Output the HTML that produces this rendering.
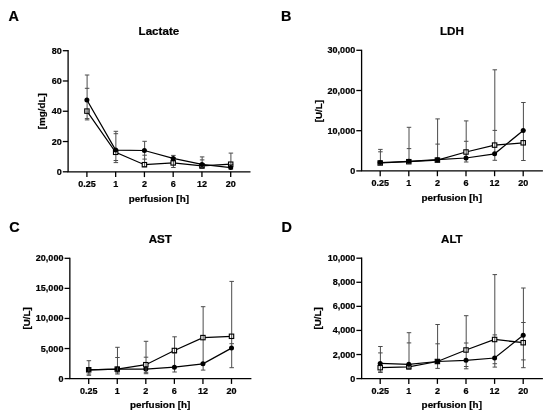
<!DOCTYPE html>
<html lang="en"><head><meta charset="utf-8"><title>Perfusion figure</title>
<style>
html,body{margin:0;padding:0;background:#fff;}
body{width:550px;height:418px;overflow:hidden;}
svg{display:block;font-family:"Liberation Sans", sans-serif;fill:#000;}
text{stroke:#000;stroke-width:0.22px;}
</style></head><body>
<svg width="550" height="418" viewBox="0 0 550 418">
<rect width="550" height="418" fill="#fff"/>
<g id="panel-A">
<text x="8.6" y="20.8" font-size="14.4" font-weight="bold">A</text>
<text x="158.9" y="34.9" font-size="11.6" font-weight="bold" text-anchor="middle">Lactate</text>
<polyline points="86.9,100 115.66,150.1 144.42,150.5 173.18,158.4 201.94,164.4 230.7,167.6" fill="none" stroke="#000" stroke-width="1.25"/>
<polyline points="86.9,111.1 115.66,152.3 144.42,164.7 173.18,162.9 201.94,165.9 230.7,164.2" fill="none" stroke="#000" stroke-width="1.25"/>
<rect x="84.7" y="108.9" width="4.4" height="4.4" fill="#fff"/>
<rect x="113.46" y="150.1" width="4.4" height="4.4" fill="#fff"/>
<rect x="142.22" y="162.5" width="4.4" height="4.4" fill="#fff"/>
<rect x="170.98" y="160.7" width="4.4" height="4.4" fill="#fff"/>
<rect x="199.74" y="163.7" width="4.4" height="4.4" fill="#fff"/>
<rect x="228.5" y="162" width="4.4" height="4.4" fill="#fff"/>
<path d="M87.1 75V119.9M84.85 75h4.5M84.85 88.3h4.5M84.85 118.6h4.5M84.85 119.9h4.5" stroke="#4c4c4c" stroke-width="1.0" fill="none"/>
<path d="M115.86 131.3V162.6M113.61 131.3h4.5M113.61 133.7h4.5M113.61 160.5h4.5M113.61 162.6h4.5" stroke="#4c4c4c" stroke-width="1.0" fill="none"/>
<path d="M144.62 141.3V166.7M142.37 141.3h4.5M142.37 155.2h4.5M142.37 159.1h4.5M142.37 166.7h4.5" stroke="#4c4c4c" stroke-width="1.0" fill="none"/>
<path d="M173.38 155.4V167.5M171.13 155.4h4.5M171.13 157.6h4.5M171.13 160.7h4.5M171.13 167.5h4.5" stroke="#4c4c4c" stroke-width="1.0" fill="none"/>
<path d="M202.14 156.9V168.2M199.89 156.9h4.5M199.89 159.9h4.5M199.89 167.5h4.5M199.89 168.2h4.5" stroke="#4c4c4c" stroke-width="1.0" fill="none"/>
<path d="M230.9 153.1V169M228.65 153.1h4.5M228.65 164.4h4.5M228.65 169h4.5" stroke="#4c4c4c" stroke-width="1.0" fill="none"/>
<circle cx="86.9" cy="100" r="2.5" fill="#000"/>
<circle cx="115.66" cy="150.1" r="2.5" fill="#000"/>
<circle cx="144.42" cy="150.5" r="2.5" fill="#000"/>
<circle cx="173.18" cy="158.4" r="2.5" fill="#000"/>
<circle cx="201.94" cy="164.4" r="2.5" fill="#000"/>
<circle cx="230.7" cy="167.6" r="2.5" fill="#000"/>
<path d="M85.4 111.1h3.4" stroke="#8a8a8a" stroke-width="1.0" fill="none"/>
<rect x="84.7" y="108.9" width="4.4" height="4.4" fill="none" stroke="#000" stroke-width="1.1"/>
<rect x="113.46" y="150.1" width="4.4" height="4.4" fill="none" stroke="#000" stroke-width="1.1"/>
<rect x="142.22" y="162.5" width="4.4" height="4.4" fill="none" stroke="#000" stroke-width="1.1"/>
<rect x="170.98" y="160.7" width="4.4" height="4.4" fill="none" stroke="#000" stroke-width="1.1"/>
<rect x="199.74" y="163.7" width="4.4" height="4.4" fill="none" stroke="#000" stroke-width="1.1"/>
<rect x="228.5" y="162" width="4.4" height="4.4" fill="none" stroke="#000" stroke-width="1.1"/>
<path d="M68.1 50.05V172.45M67.45 171.8H250.5" stroke="#000" stroke-width="1.3" fill="none"/>
<path d="M62.8 171.8H68.1" stroke="#000" stroke-width="1.3"/>
<text x="61.65" y="174.8" font-size="9" font-weight="bold" text-anchor="end">0</text>
<path d="M62.8 141.53H68.1" stroke="#000" stroke-width="1.3"/>
<text x="61.65" y="144.53" font-size="9" font-weight="bold" text-anchor="end">20</text>
<path d="M62.8 111.25H68.1" stroke="#000" stroke-width="1.3"/>
<text x="61.65" y="114.25" font-size="9" font-weight="bold" text-anchor="end">40</text>
<path d="M62.8 80.98H68.1" stroke="#000" stroke-width="1.3"/>
<text x="61.65" y="83.98" font-size="9" font-weight="bold" text-anchor="end">60</text>
<path d="M62.8 50.7H68.1" stroke="#000" stroke-width="1.3"/>
<text x="61.65" y="53.7" font-size="9" font-weight="bold" text-anchor="end">80</text>
<path d="M86.9 171.8V177.1" stroke="#000" stroke-width="1.3"/>
<text x="86.9" y="186.55" font-size="9" font-weight="bold" text-anchor="middle">0.25</text>
<path d="M115.66 171.8V177.1" stroke="#000" stroke-width="1.3"/>
<text x="115.66" y="186.55" font-size="9" font-weight="bold" text-anchor="middle">1</text>
<path d="M144.42 171.8V177.1" stroke="#000" stroke-width="1.3"/>
<text x="144.42" y="186.55" font-size="9" font-weight="bold" text-anchor="middle">2</text>
<path d="M173.18 171.8V177.1" stroke="#000" stroke-width="1.3"/>
<text x="173.18" y="186.55" font-size="9" font-weight="bold" text-anchor="middle">6</text>
<path d="M201.94 171.8V177.1" stroke="#000" stroke-width="1.3"/>
<text x="201.94" y="186.55" font-size="9" font-weight="bold" text-anchor="middle">12</text>
<path d="M230.7 171.8V177.1" stroke="#000" stroke-width="1.3"/>
<text x="230.7" y="186.55" font-size="9" font-weight="bold" text-anchor="middle">20</text>
<text x="158.8" y="201.9" font-size="9.9" font-weight="bold" text-anchor="middle">perfusion [h]</text>
<text transform="translate(45.2 111.25) rotate(-90)" font-size="9.8" font-weight="bold" text-anchor="middle">[mg/dL]</text>
</g>
<g id="panel-B">
<text x="281" y="20.8" font-size="14.4" font-weight="bold">B</text>
<text x="451.85" y="34.9" font-size="11.6" font-weight="bold" text-anchor="middle">LDH</text>
<polyline points="380.2,162.6 408.8,161.3 437.4,159.7 466,158 494.6,153.8 523.2,130.4" fill="none" stroke="#000" stroke-width="1.25"/>
<polyline points="380.2,163 408.8,161.7 437.4,160.1 466,152 494.6,145.1 523.2,142.8" fill="none" stroke="#000" stroke-width="1.25"/>
<rect x="378" y="160.8" width="4.4" height="4.4" fill="#fff"/>
<rect x="406.6" y="159.5" width="4.4" height="4.4" fill="#fff"/>
<rect x="435.2" y="157.9" width="4.4" height="4.4" fill="#fff"/>
<rect x="463.8" y="149.8" width="4.4" height="4.4" fill="#fff"/>
<rect x="492.4" y="142.9" width="4.4" height="4.4" fill="#fff"/>
<rect x="521" y="140.6" width="4.4" height="4.4" fill="#fff"/>
<path d="M380.4 149.4V163.5M378.15 149.4h4.5M378.15 151.8h4.5M378.15 163.5h4.5" stroke="#4c4c4c" stroke-width="1.0" fill="none"/>
<path d="M409 127.3V162.3M406.75 127.3h4.5M406.75 148.6h4.5M406.75 162.3h4.5" stroke="#4c4c4c" stroke-width="1.0" fill="none"/>
<path d="M437.6 118.9V161.1M435.35 118.9h4.5M435.35 144.1h4.5M435.35 161.1h4.5" stroke="#4c4c4c" stroke-width="1.0" fill="none"/>
<path d="M466.2 120.9V162M463.95 120.9h4.5M463.95 141.3h4.5M463.95 162h4.5" stroke="#4c4c4c" stroke-width="1.0" fill="none"/>
<path d="M494.8 69.8V160.3M492.55 69.8h4.5M492.55 130.4h4.5M492.55 160.3h4.5" stroke="#4c4c4c" stroke-width="1.0" fill="none"/>
<path d="M523.4 102.5V160.5M521.15 102.5h4.5M521.15 130.4h4.5M521.15 160.5h4.5" stroke="#4c4c4c" stroke-width="1.0" fill="none"/>
<circle cx="380.2" cy="162.6" r="2.5" fill="#000"/>
<circle cx="408.8" cy="161.3" r="2.5" fill="#000"/>
<circle cx="437.4" cy="159.7" r="2.5" fill="#000"/>
<circle cx="466" cy="158" r="2.5" fill="#000"/>
<circle cx="494.6" cy="153.8" r="2.5" fill="#000"/>
<circle cx="523.2" cy="130.4" r="2.5" fill="#000"/>
<rect x="378" y="160.8" width="4.4" height="4.4" fill="none" stroke="#000" stroke-width="1.1"/>
<rect x="406.6" y="159.5" width="4.4" height="4.4" fill="none" stroke="#000" stroke-width="1.1"/>
<rect x="435.2" y="157.9" width="4.4" height="4.4" fill="none" stroke="#000" stroke-width="1.1"/>
<rect x="463.8" y="149.8" width="4.4" height="4.4" fill="none" stroke="#000" stroke-width="1.1"/>
<rect x="492.4" y="142.9" width="4.4" height="4.4" fill="none" stroke="#000" stroke-width="1.1"/>
<rect x="521" y="140.6" width="4.4" height="4.4" fill="none" stroke="#000" stroke-width="1.1"/>
<path d="M361.6 49.65V171.55M360.95 170.9H542.9" stroke="#000" stroke-width="1.3" fill="none"/>
<path d="M356.3 170.9H361.6" stroke="#000" stroke-width="1.3"/>
<text x="355.15" y="173.9" font-size="9" font-weight="bold" text-anchor="end">0</text>
<path d="M356.3 130.7H361.6" stroke="#000" stroke-width="1.3"/>
<text x="355.15" y="133.7" font-size="9" font-weight="bold" text-anchor="end">10,000</text>
<path d="M356.3 90.5H361.6" stroke="#000" stroke-width="1.3"/>
<text x="355.15" y="93.5" font-size="9" font-weight="bold" text-anchor="end">20,000</text>
<path d="M356.3 50.3H361.6" stroke="#000" stroke-width="1.3"/>
<text x="355.15" y="53.3" font-size="9" font-weight="bold" text-anchor="end">30,000</text>
<path d="M380.2 170.9V176.2" stroke="#000" stroke-width="1.3"/>
<text x="380.2" y="185.65" font-size="9" font-weight="bold" text-anchor="middle">0.25</text>
<path d="M408.8 170.9V176.2" stroke="#000" stroke-width="1.3"/>
<text x="408.8" y="185.65" font-size="9" font-weight="bold" text-anchor="middle">1</text>
<path d="M437.4 170.9V176.2" stroke="#000" stroke-width="1.3"/>
<text x="437.4" y="185.65" font-size="9" font-weight="bold" text-anchor="middle">2</text>
<path d="M466 170.9V176.2" stroke="#000" stroke-width="1.3"/>
<text x="466" y="185.65" font-size="9" font-weight="bold" text-anchor="middle">6</text>
<path d="M494.6 170.9V176.2" stroke="#000" stroke-width="1.3"/>
<text x="494.6" y="185.65" font-size="9" font-weight="bold" text-anchor="middle">12</text>
<path d="M523.2 170.9V176.2" stroke="#000" stroke-width="1.3"/>
<text x="523.2" y="185.65" font-size="9" font-weight="bold" text-anchor="middle">20</text>
<text x="451.75" y="200.6" font-size="9.9" font-weight="bold" text-anchor="middle">perfusion [h]</text>
<text transform="translate(321.5 111.1) rotate(-90)" font-size="9.8" font-weight="bold" text-anchor="middle">[U/L]</text>
</g>
<g id="panel-C">
<text x="9.3" y="232" font-size="14.4" font-weight="bold">C</text>
<text x="160.22" y="242.75" font-size="11.6" font-weight="bold" text-anchor="middle">AST</text>
<polyline points="88.7,369.8 117.26,369.1 145.82,369.1 174.38,367.2 202.94,363.8 231.5,348.1" fill="none" stroke="#000" stroke-width="1.25"/>
<polyline points="88.7,369.8 117.26,369.1 145.82,364.7 174.38,350.5 202.94,337.6 231.5,336.3" fill="none" stroke="#000" stroke-width="1.25"/>
<rect x="86.5" y="367.6" width="4.4" height="4.4" fill="#fff"/>
<rect x="115.06" y="366.9" width="4.4" height="4.4" fill="#fff"/>
<rect x="143.62" y="362.5" width="4.4" height="4.4" fill="#fff"/>
<rect x="172.18" y="348.3" width="4.4" height="4.4" fill="#fff"/>
<rect x="200.74" y="335.4" width="4.4" height="4.4" fill="#fff"/>
<rect x="229.3" y="334.1" width="4.4" height="4.4" fill="#fff"/>
<path d="M88.9 360.7V375.3M86.65 360.7h4.5M86.65 374h4.5M86.65 375.3h4.5" stroke="#4c4c4c" stroke-width="1.0" fill="none"/>
<path d="M117.46 347.3V374M115.21 347.3h4.5M115.21 357.5h4.5M115.21 372.8h4.5M115.21 374h4.5" stroke="#4c4c4c" stroke-width="1.0" fill="none"/>
<path d="M146.02 341.3V373.7M143.77 341.3h4.5M143.77 357.2h4.5M143.77 372.3h4.5M143.77 373.7h4.5" stroke="#4c4c4c" stroke-width="1.0" fill="none"/>
<path d="M174.58 336.8V372M172.33 336.8h4.5M172.33 353h4.5M172.33 372h4.5" stroke="#4c4c4c" stroke-width="1.0" fill="none"/>
<path d="M203.14 306.7V370.1M200.89 306.7h4.5M200.89 363h4.5M200.89 370.1h4.5" stroke="#4c4c4c" stroke-width="1.0" fill="none"/>
<path d="M231.7 281.4V367.7M229.45 281.4h4.5M229.45 343.7h4.5M229.45 367.7h4.5" stroke="#4c4c4c" stroke-width="1.0" fill="none"/>
<circle cx="88.7" cy="369.8" r="2.5" fill="#000"/>
<circle cx="117.26" cy="369.1" r="2.5" fill="#000"/>
<circle cx="145.82" cy="369.1" r="2.5" fill="#000"/>
<circle cx="174.38" cy="367.2" r="2.5" fill="#000"/>
<circle cx="202.94" cy="363.8" r="2.5" fill="#000"/>
<circle cx="231.5" cy="348.1" r="2.5" fill="#000"/>
<path d="M88.9 367.3V372.3" stroke="#4c4c4c" stroke-width="1.0" fill="none"/>
<path d="M117.46 366.6V371.6" stroke="#4c4c4c" stroke-width="1.0" fill="none"/>
<path d="M146.02 366.6V371.6" stroke="#4c4c4c" stroke-width="1.0" fill="none"/>
<rect x="86.5" y="367.6" width="4.4" height="4.4" fill="none" stroke="#000" stroke-width="1.1"/>
<rect x="115.06" y="366.9" width="4.4" height="4.4" fill="none" stroke="#000" stroke-width="1.1"/>
<rect x="143.62" y="362.5" width="4.4" height="4.4" fill="none" stroke="#000" stroke-width="1.1"/>
<rect x="172.18" y="348.3" width="4.4" height="4.4" fill="none" stroke="#000" stroke-width="1.1"/>
<rect x="200.74" y="335.4" width="4.4" height="4.4" fill="none" stroke="#000" stroke-width="1.1"/>
<rect x="229.3" y="334.1" width="4.4" height="4.4" fill="none" stroke="#000" stroke-width="1.1"/>
<path d="M69.85 257.65V379.25M69.2 378.6H251.4" stroke="#000" stroke-width="1.3" fill="none"/>
<path d="M64.55 378.6H69.85" stroke="#000" stroke-width="1.3"/>
<text x="63.4" y="381.6" font-size="9" font-weight="bold" text-anchor="end">0</text>
<path d="M64.55 348.53H69.85" stroke="#000" stroke-width="1.3"/>
<text x="63.4" y="351.53" font-size="9" font-weight="bold" text-anchor="end">5,000</text>
<path d="M64.55 318.45H69.85" stroke="#000" stroke-width="1.3"/>
<text x="63.4" y="321.45" font-size="9" font-weight="bold" text-anchor="end">10,000</text>
<path d="M64.55 288.38H69.85" stroke="#000" stroke-width="1.3"/>
<text x="63.4" y="291.38" font-size="9" font-weight="bold" text-anchor="end">15,000</text>
<path d="M64.55 258.3H69.85" stroke="#000" stroke-width="1.3"/>
<text x="63.4" y="261.3" font-size="9" font-weight="bold" text-anchor="end">20,000</text>
<path d="M88.7 378.6V383.9" stroke="#000" stroke-width="1.3"/>
<text x="88.7" y="393.55" font-size="9" font-weight="bold" text-anchor="middle">0.25</text>
<path d="M117.26 378.6V383.9" stroke="#000" stroke-width="1.3"/>
<text x="117.26" y="393.55" font-size="9" font-weight="bold" text-anchor="middle">1</text>
<path d="M145.82 378.6V383.9" stroke="#000" stroke-width="1.3"/>
<text x="145.82" y="393.55" font-size="9" font-weight="bold" text-anchor="middle">2</text>
<path d="M174.38 378.6V383.9" stroke="#000" stroke-width="1.3"/>
<text x="174.38" y="393.55" font-size="9" font-weight="bold" text-anchor="middle">6</text>
<path d="M202.94 378.6V383.9" stroke="#000" stroke-width="1.3"/>
<text x="202.94" y="393.55" font-size="9" font-weight="bold" text-anchor="middle">12</text>
<path d="M231.5 378.6V383.9" stroke="#000" stroke-width="1.3"/>
<text x="231.5" y="393.55" font-size="9" font-weight="bold" text-anchor="middle">20</text>
<text x="160.12" y="408.3" font-size="9.9" font-weight="bold" text-anchor="middle">perfusion [h]</text>
<text transform="translate(29.5 318.45) rotate(-90)" font-size="9.8" font-weight="bold" text-anchor="middle">[U/L]</text>
</g>
<g id="panel-D">
<text x="281.5" y="232" font-size="14.4" font-weight="bold">D</text>
<text x="451.88" y="242.75" font-size="11.6" font-weight="bold" text-anchor="middle">ALT</text>
<polyline points="380.2,363.4 408.8,364.3 437.4,361.5 466,360.3 494.6,358 523.2,335.2" fill="none" stroke="#000" stroke-width="1.25"/>
<polyline points="380.2,367.7 408.8,366.8 437.4,361.5 466,350 494.6,339.5 523.2,342.7" fill="none" stroke="#000" stroke-width="1.25"/>
<rect x="378" y="365.5" width="4.4" height="4.4" fill="#fff"/>
<rect x="406.6" y="364.6" width="4.4" height="4.4" fill="#fff"/>
<rect x="435.2" y="359.3" width="4.4" height="4.4" fill="#fff"/>
<rect x="463.8" y="347.8" width="4.4" height="4.4" fill="#fff"/>
<rect x="492.4" y="337.3" width="4.4" height="4.4" fill="#fff"/>
<rect x="521" y="340.5" width="4.4" height="4.4" fill="#fff"/>
<path d="M380.4 346.5V372.5M378.15 346.5h4.5M378.15 352.9h4.5M378.15 371.9h4.5M378.15 372.5h4.5" stroke="#4c4c4c" stroke-width="1.0" fill="none"/>
<path d="M409 332.7V369M406.75 332.7h4.5M406.75 342.9h4.5M406.75 368h4.5M406.75 369h4.5" stroke="#4c4c4c" stroke-width="1.0" fill="none"/>
<path d="M437.6 324.5V368.4M435.35 324.5h4.5M435.35 343.8h4.5M435.35 368.4h4.5" stroke="#4c4c4c" stroke-width="1.0" fill="none"/>
<path d="M466.2 315.7V368.8M463.95 315.7h4.5M463.95 343h4.5M463.95 366.5h4.5M463.95 368.8h4.5" stroke="#4c4c4c" stroke-width="1.0" fill="none"/>
<path d="M494.8 274.6V367.1M492.55 274.6h4.5M492.55 334.9h4.5M492.55 363.7h4.5M492.55 367.1h4.5" stroke="#4c4c4c" stroke-width="1.0" fill="none"/>
<path d="M523.4 288V367.7M521.15 288h4.5M521.15 322.5h4.5M521.15 359.9h4.5M521.15 367.7h4.5" stroke="#4c4c4c" stroke-width="1.0" fill="none"/>
<circle cx="380.2" cy="363.4" r="2.5" fill="#000"/>
<circle cx="408.8" cy="364.3" r="2.5" fill="#000"/>
<circle cx="437.4" cy="361.5" r="2.5" fill="#000"/>
<circle cx="466" cy="360.3" r="2.5" fill="#000"/>
<circle cx="494.6" cy="358" r="2.5" fill="#000"/>
<circle cx="523.2" cy="335.2" r="2.5" fill="#000"/>
<rect x="378" y="365.5" width="4.4" height="4.4" fill="none" stroke="#000" stroke-width="1.1"/>
<rect x="406.6" y="364.6" width="4.4" height="4.4" fill="none" stroke="#000" stroke-width="1.1"/>
<rect x="435.2" y="359.3" width="4.4" height="4.4" fill="none" stroke="#000" stroke-width="1.1"/>
<rect x="463.8" y="347.8" width="4.4" height="4.4" fill="none" stroke="#000" stroke-width="1.1"/>
<rect x="492.4" y="337.3" width="4.4" height="4.4" fill="none" stroke="#000" stroke-width="1.1"/>
<rect x="521" y="340.5" width="4.4" height="4.4" fill="none" stroke="#000" stroke-width="1.1"/>
<path d="M361.65 257.55V379.25M361 378.6H542.9" stroke="#000" stroke-width="1.3" fill="none"/>
<path d="M356.35 378.6H361.65" stroke="#000" stroke-width="1.3"/>
<text x="355.2" y="381.6" font-size="9" font-weight="bold" text-anchor="end">0</text>
<path d="M356.35 354.52H361.65" stroke="#000" stroke-width="1.3"/>
<text x="355.2" y="357.52" font-size="9" font-weight="bold" text-anchor="end">2,000</text>
<path d="M356.35 330.44H361.65" stroke="#000" stroke-width="1.3"/>
<text x="355.2" y="333.44" font-size="9" font-weight="bold" text-anchor="end">4,000</text>
<path d="M356.35 306.36H361.65" stroke="#000" stroke-width="1.3"/>
<text x="355.2" y="309.36" font-size="9" font-weight="bold" text-anchor="end">6,000</text>
<path d="M356.35 282.28H361.65" stroke="#000" stroke-width="1.3"/>
<text x="355.2" y="285.28" font-size="9" font-weight="bold" text-anchor="end">8,000</text>
<path d="M356.35 258.2H361.65" stroke="#000" stroke-width="1.3"/>
<text x="355.2" y="261.2" font-size="9" font-weight="bold" text-anchor="end">10,000</text>
<path d="M380.2 378.6V383.9" stroke="#000" stroke-width="1.3"/>
<text x="380.2" y="393.75" font-size="9" font-weight="bold" text-anchor="middle">0.25</text>
<path d="M408.8 378.6V383.9" stroke="#000" stroke-width="1.3"/>
<text x="408.8" y="393.75" font-size="9" font-weight="bold" text-anchor="middle">1</text>
<path d="M437.4 378.6V383.9" stroke="#000" stroke-width="1.3"/>
<text x="437.4" y="393.75" font-size="9" font-weight="bold" text-anchor="middle">2</text>
<path d="M466 378.6V383.9" stroke="#000" stroke-width="1.3"/>
<text x="466" y="393.75" font-size="9" font-weight="bold" text-anchor="middle">6</text>
<path d="M494.6 378.6V383.9" stroke="#000" stroke-width="1.3"/>
<text x="494.6" y="393.75" font-size="9" font-weight="bold" text-anchor="middle">12</text>
<path d="M523.2 378.6V383.9" stroke="#000" stroke-width="1.3"/>
<text x="523.2" y="393.75" font-size="9" font-weight="bold" text-anchor="middle">20</text>
<text x="451.77" y="408.3" font-size="9.9" font-weight="bold" text-anchor="middle">perfusion [h]</text>
<text transform="translate(321.4 318.4) rotate(-90)" font-size="9.8" font-weight="bold" text-anchor="middle">[U/L]</text>
</g>
</svg>
</body></html>
